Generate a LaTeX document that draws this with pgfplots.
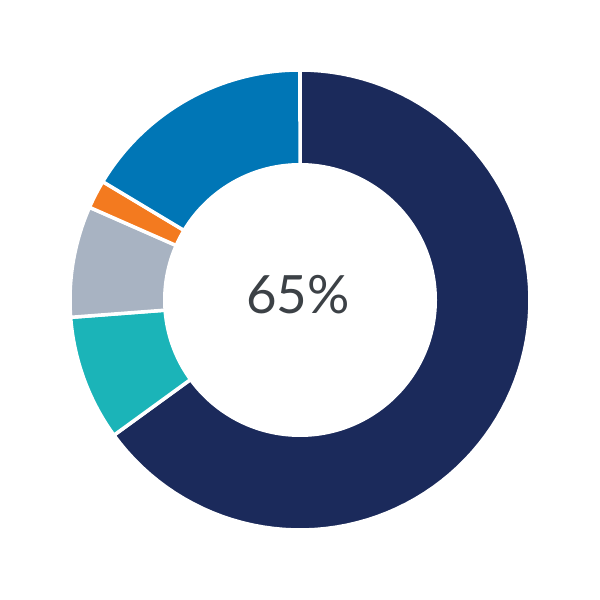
\documentclass[border=0pt]{standalone}
\usepackage{pgfplots}
\pgfplotsset{compat=1.18}
\usepackage{fontspec}
\setmainfont{Lato}

\definecolor{navy}{HTML}{1B2A5B}
\definecolor{teal}{HTML}{1BB4B8}
\definecolor{slate}{HTML}{A8B3C2}
\definecolor{orng}{HTML}{F37A1F}
\definecolor{blue}{HTML}{0076B6}
\definecolor{txt}{HTML}{3C4146}

% share of each segment, in percent, clockwise from the top
% navy 65, teal 8.8, slate 7.8, orange 2, blue 16.4

\begin{document}
\begin{tikzpicture}
\begin{axis}[
    hide axis,
    scale only axis,
    width=600bp, height=600bp,
    xmin=0, xmax=600,
    ymin=0, ymax=600,
    clip=false,
    every axis plot/.append style={draw=white, line width=3.5bp, samples=90, variable=\t},
]
\path (axis cs:0,0) rectangle (axis cs:600,600);

\addplot[fill=navy,  domain=90:90-3.6*65]          ({300+230*cos(\t)},{300+230*sin(\t)}) -- (axis cs:300,300) -- cycle;
\addplot[fill=teal,  domain=90-3.6*65:90-3.6*73.8]   ({300+230*cos(\t)},{300+230*sin(\t)}) -- (axis cs:300,300) -- cycle;
\addplot[fill=slate, domain=90-3.6*73.8:90-3.6*81.6] ({300+230*cos(\t)},{300+230*sin(\t)}) -- (axis cs:300,300) -- cycle;
\addplot[fill=orng,  domain=90-3.6*81.6:90-3.6*83.6] ({300+230*cos(\t)},{300+230*sin(\t)}) -- (axis cs:300,300) -- cycle;
\addplot[fill=blue,  domain=90-3.6*83.6:90-3.6*100]  ({300+230*cos(\t)},{300+230*sin(\t)}) -- (axis cs:300,300) -- cycle;

\fill[white] (axis cs:300,300) circle[radius=137];
\node[text=txt, font=\fontsize{53}{58}\selectfont] at (axis cs:298,305) {65\%};
\end{axis}
\end{tikzpicture}
\end{document}
